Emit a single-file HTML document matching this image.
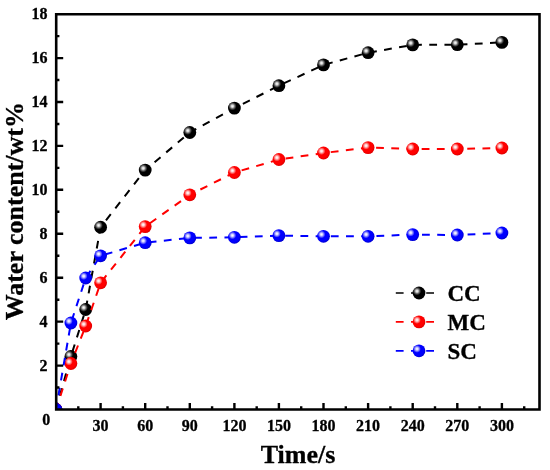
<!DOCTYPE html><html><head><meta charset="utf-8"><style>html,body{margin:0;padding:0;background:#fff;}svg{display:block;}text{font-family:"Liberation Serif","Times New Roman",serif;font-weight:bold;fill:#000;stroke:#000;stroke-width:0.3px;}</style></head><body>
<svg width="550" height="470" viewBox="0 0 550 470">
<defs>
<radialGradient id="gk" cx="0.42" cy="0.42" r="0.62"><stop offset="0" stop-color="#000"/><stop offset="0.7" stop-color="#000"/><stop offset="1" stop-color="#000"/></radialGradient>
<radialGradient id="gr" cx="0.42" cy="0.42" r="0.62"><stop offset="0" stop-color="#ff0000"/><stop offset="0.7" stop-color="#ff0000"/><stop offset="1" stop-color="#d80000"/></radialGradient>
<radialGradient id="gb" cx="0.42" cy="0.42" r="0.62"><stop offset="0" stop-color="#0000ff"/><stop offset="0.7" stop-color="#0000ff"/><stop offset="1" stop-color="#0000c8"/></radialGradient>
<radialGradient id="hl"><stop offset="0" stop-color="#fff" stop-opacity="1"/><stop offset="0.3" stop-color="#fff" stop-opacity="0.85"/><stop offset="1" stop-color="#fff" stop-opacity="0"/></radialGradient>
<radialGradient id="hlk"><stop offset="0" stop-color="#fff" stop-opacity="1"/><stop offset="0.3" stop-color="#e8e8e8" stop-opacity="0.9"/><stop offset="1" stop-color="#999" stop-opacity="0"/></radialGradient>
<clipPath id="cp"><rect x="56.2" y="14.2" width="483.3" height="395.3"/></clipPath>
</defs>
<rect width="550" height="470" fill="#fff"/>
<g clip-path="url(#cp)">
<polyline points="56.0,409.5 70.9,356.5 85.7,309.5 100.6,227.2 145.2,170.1 189.8,132.5 234.4,108.1 278.9,85.7 323.5,64.9 368.1,52.7 412.7,44.9 457.3,44.7 501.9,42.4" fill="none" stroke="#000" stroke-width="2.0" stroke-dasharray="7.8 7.4" stroke-dashoffset="0.9"/>
<circle cx="56.0" cy="409.5" r="6.4" fill="url(#gk)"/>
<circle cx="54.0" cy="407.6" r="4.3" fill="url(#hlk)"/>
<circle cx="70.9" cy="356.5" r="6.4" fill="url(#gk)"/>
<circle cx="68.9" cy="354.6" r="4.3" fill="url(#hlk)"/>
<circle cx="85.7" cy="309.5" r="6.4" fill="url(#gk)"/>
<circle cx="83.7" cy="307.6" r="4.3" fill="url(#hlk)"/>
<circle cx="100.6" cy="227.2" r="6.4" fill="url(#gk)"/>
<circle cx="98.6" cy="225.3" r="4.3" fill="url(#hlk)"/>
<circle cx="145.2" cy="170.1" r="6.4" fill="url(#gk)"/>
<circle cx="143.2" cy="168.2" r="4.3" fill="url(#hlk)"/>
<circle cx="189.8" cy="132.5" r="6.4" fill="url(#gk)"/>
<circle cx="187.8" cy="130.6" r="4.3" fill="url(#hlk)"/>
<circle cx="234.4" cy="108.1" r="6.4" fill="url(#gk)"/>
<circle cx="232.4" cy="106.2" r="4.3" fill="url(#hlk)"/>
<circle cx="278.9" cy="85.7" r="6.4" fill="url(#gk)"/>
<circle cx="276.9" cy="83.8" r="4.3" fill="url(#hlk)"/>
<circle cx="323.5" cy="64.9" r="6.4" fill="url(#gk)"/>
<circle cx="321.5" cy="63.0" r="4.3" fill="url(#hlk)"/>
<circle cx="368.1" cy="52.7" r="6.4" fill="url(#gk)"/>
<circle cx="366.1" cy="50.8" r="4.3" fill="url(#hlk)"/>
<circle cx="412.7" cy="44.9" r="6.4" fill="url(#gk)"/>
<circle cx="410.7" cy="43.0" r="4.3" fill="url(#hlk)"/>
<circle cx="457.3" cy="44.7" r="6.4" fill="url(#gk)"/>
<circle cx="455.3" cy="42.8" r="4.3" fill="url(#hlk)"/>
<circle cx="501.9" cy="42.4" r="6.4" fill="url(#gk)"/>
<circle cx="499.9" cy="40.5" r="4.3" fill="url(#hlk)"/>
<polyline points="56.0,409.5 70.9,363.5 85.7,326.0 100.6,282.8 145.2,226.6 189.8,194.8 234.4,172.5 278.9,159.5 323.5,153.0 368.1,147.6 412.7,149.0 457.3,149.0 501.9,148.0" fill="none" stroke="#f00" stroke-width="2.0" stroke-dasharray="7.8 7.4" stroke-dashoffset="0.9"/>
<circle cx="56.0" cy="409.5" r="6.4" fill="url(#gr)"/>
<circle cx="54.0" cy="407.6" r="3.9" fill="url(#hl)"/>
<circle cx="70.9" cy="363.5" r="6.4" fill="url(#gr)"/>
<circle cx="68.9" cy="361.6" r="3.9" fill="url(#hl)"/>
<circle cx="85.7" cy="326.0" r="6.4" fill="url(#gr)"/>
<circle cx="83.7" cy="324.1" r="3.9" fill="url(#hl)"/>
<circle cx="100.6" cy="282.8" r="6.4" fill="url(#gr)"/>
<circle cx="98.6" cy="280.9" r="3.9" fill="url(#hl)"/>
<circle cx="145.2" cy="226.6" r="6.4" fill="url(#gr)"/>
<circle cx="143.2" cy="224.7" r="3.9" fill="url(#hl)"/>
<circle cx="189.8" cy="194.8" r="6.4" fill="url(#gr)"/>
<circle cx="187.8" cy="192.9" r="3.9" fill="url(#hl)"/>
<circle cx="234.4" cy="172.5" r="6.4" fill="url(#gr)"/>
<circle cx="232.4" cy="170.6" r="3.9" fill="url(#hl)"/>
<circle cx="278.9" cy="159.5" r="6.4" fill="url(#gr)"/>
<circle cx="276.9" cy="157.6" r="3.9" fill="url(#hl)"/>
<circle cx="323.5" cy="153.0" r="6.4" fill="url(#gr)"/>
<circle cx="321.5" cy="151.1" r="3.9" fill="url(#hl)"/>
<circle cx="368.1" cy="147.6" r="6.4" fill="url(#gr)"/>
<circle cx="366.1" cy="145.7" r="3.9" fill="url(#hl)"/>
<circle cx="412.7" cy="149.0" r="6.4" fill="url(#gr)"/>
<circle cx="410.7" cy="147.1" r="3.9" fill="url(#hl)"/>
<circle cx="457.3" cy="149.0" r="6.4" fill="url(#gr)"/>
<circle cx="455.3" cy="147.1" r="3.9" fill="url(#hl)"/>
<circle cx="501.9" cy="148.0" r="6.4" fill="url(#gr)"/>
<circle cx="499.9" cy="146.1" r="3.9" fill="url(#hl)"/>
<polyline points="56.0,409.5 70.9,323.0 85.7,278.0 100.6,255.8 145.2,242.7 189.8,237.9 234.4,237.3 278.9,235.6 323.5,236.3 368.1,236.3 412.7,234.6 457.3,235.0 501.9,233.0" fill="none" stroke="#00f" stroke-width="2.0" stroke-dasharray="7.8 7.4" stroke-dashoffset="0.9"/>
<circle cx="56.0" cy="409.5" r="6.4" fill="url(#gb)"/>
<circle cx="54.0" cy="407.6" r="3.9" fill="url(#hl)"/>
<circle cx="70.9" cy="323.0" r="6.4" fill="url(#gb)"/>
<circle cx="68.9" cy="321.1" r="3.9" fill="url(#hl)"/>
<circle cx="85.7" cy="278.0" r="6.4" fill="url(#gb)"/>
<circle cx="83.7" cy="276.1" r="3.9" fill="url(#hl)"/>
<circle cx="100.6" cy="255.8" r="6.4" fill="url(#gb)"/>
<circle cx="98.6" cy="253.9" r="3.9" fill="url(#hl)"/>
<circle cx="145.2" cy="242.7" r="6.4" fill="url(#gb)"/>
<circle cx="143.2" cy="240.8" r="3.9" fill="url(#hl)"/>
<circle cx="189.8" cy="237.9" r="6.4" fill="url(#gb)"/>
<circle cx="187.8" cy="236.0" r="3.9" fill="url(#hl)"/>
<circle cx="234.4" cy="237.3" r="6.4" fill="url(#gb)"/>
<circle cx="232.4" cy="235.4" r="3.9" fill="url(#hl)"/>
<circle cx="278.9" cy="235.6" r="6.4" fill="url(#gb)"/>
<circle cx="276.9" cy="233.7" r="3.9" fill="url(#hl)"/>
<circle cx="323.5" cy="236.3" r="6.4" fill="url(#gb)"/>
<circle cx="321.5" cy="234.4" r="3.9" fill="url(#hl)"/>
<circle cx="368.1" cy="236.3" r="6.4" fill="url(#gb)"/>
<circle cx="366.1" cy="234.4" r="3.9" fill="url(#hl)"/>
<circle cx="412.7" cy="234.6" r="6.4" fill="url(#gb)"/>
<circle cx="410.7" cy="232.7" r="3.9" fill="url(#hl)"/>
<circle cx="457.3" cy="235.0" r="6.4" fill="url(#gb)"/>
<circle cx="455.3" cy="233.1" r="3.9" fill="url(#hl)"/>
<circle cx="501.9" cy="233.0" r="6.4" fill="url(#gb)"/>
<circle cx="499.9" cy="231.1" r="3.9" fill="url(#hl)"/>
</g>
<path d="M56.2,14.2H539.5V409.5H56.2Z" fill="none" stroke="#000" stroke-width="2.6" stroke-linejoin="miter" stroke-linecap="square"/>
<path d="M78.3,409.5V406.3M100.6,409.5V403.0M122.9,409.5V406.3M145.2,409.5V403.0M167.5,409.5V406.3M189.8,409.5V403.0M212.1,409.5V406.3M234.4,409.5V403.0M256.7,409.5V406.3M278.9,409.5V403.0M301.2,409.5V406.3M323.5,409.5V403.0M345.8,409.5V406.3M368.1,409.5V403.0M390.4,409.5V406.3M412.7,409.5V403.0M435.0,409.5V406.3M457.3,409.5V403.0M479.6,409.5V406.3M501.9,409.5V403.0M524.2,409.5V406.3M56.2,387.5H59.4M56.2,365.6H63.2M56.2,343.6H59.4M56.2,321.6H63.2M56.2,299.7H59.4M56.2,277.7H63.2M56.2,255.7H59.4M56.2,233.8H63.2M56.2,211.8H59.4M56.2,189.8H63.2M56.2,167.9H59.4M56.2,145.9H63.2M56.2,124.0H59.4M56.2,102.0H63.2M56.2,80.0H59.4M56.2,58.1H63.2M56.2,36.1H59.4" stroke="#000" stroke-width="2.4" fill="none"/>
<text x="100.6" y="431" font-size="16" text-anchor="middle">30</text>
<text x="145.2" y="431" font-size="16" text-anchor="middle">60</text>
<text x="189.8" y="431" font-size="16" text-anchor="middle">90</text>
<text x="234.4" y="431" font-size="16" text-anchor="middle">120</text>
<text x="278.9" y="431" font-size="16" text-anchor="middle">150</text>
<text x="323.5" y="431" font-size="16" text-anchor="middle">180</text>
<text x="368.1" y="431" font-size="16" text-anchor="middle">210</text>
<text x="412.7" y="431" font-size="16" text-anchor="middle">240</text>
<text x="457.3" y="431" font-size="16" text-anchor="middle">270</text>
<text x="501.9" y="431" font-size="16" text-anchor="middle">300</text>
<text x="47.5" y="370.6" font-size="16" text-anchor="end">2</text>
<text x="47.5" y="326.6" font-size="16" text-anchor="end">4</text>
<text x="47.5" y="282.7" font-size="16" text-anchor="end">6</text>
<text x="47.5" y="238.8" font-size="16" text-anchor="end">8</text>
<text x="47.5" y="194.8" font-size="16" text-anchor="end">10</text>
<text x="47.5" y="150.9" font-size="16" text-anchor="end">12</text>
<text x="47.5" y="107.0" font-size="16" text-anchor="end">14</text>
<text x="47.5" y="63.1" font-size="16" text-anchor="end">16</text>
<text x="47.5" y="19.1" font-size="16" text-anchor="end">18</text>
<text x="46.3" y="424.5" font-size="16" text-anchor="middle">0</text>
<text x="298" y="462.6" font-size="26" text-anchor="middle">Time/s</text>
<text transform="translate(23.3,211.2) rotate(-90)" font-size="26" text-anchor="middle">Water content/wt%</text>
<line x1="395.8" y1="293.0" x2="434.2" y2="293.0" stroke="#000" stroke-width="1.7" stroke-dasharray="7.8 7.4"/>
<circle cx="419.0" cy="293.0" r="6.4" fill="url(#gk)"/>
<circle cx="417.0" cy="291.1" r="4.3" fill="url(#hlk)"/>
<text x="447.5" y="300.8" font-size="23">CC</text>
<line x1="395.8" y1="321.9" x2="434.2" y2="321.9" stroke="#f00" stroke-width="1.7" stroke-dasharray="7.8 7.4"/>
<circle cx="419.0" cy="321.9" r="6.4" fill="url(#gr)"/>
<circle cx="417.0" cy="320.0" r="3.9" fill="url(#hl)"/>
<text x="447.5" y="329.7" font-size="23">MC</text>
<line x1="395.8" y1="350.8" x2="434.2" y2="350.8" stroke="#00f" stroke-width="1.7" stroke-dasharray="7.8 7.4"/>
<circle cx="419.0" cy="350.8" r="6.4" fill="url(#gb)"/>
<circle cx="417.0" cy="348.9" r="3.9" fill="url(#hl)"/>
<text x="447.5" y="358.6" font-size="23">SC</text>
</svg></body></html>
